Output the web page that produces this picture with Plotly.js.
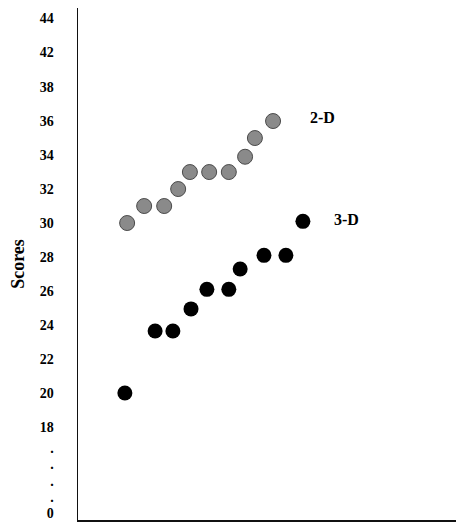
<!DOCTYPE html>
<html>
<head>
<meta charset="utf-8">
<script src="https://cdn.plot.ly/plotly-3.0.1.min.js"></script>
<style>
  html, body { margin: 0; padding: 0; background: #fff; }
  #plot { width: 474px; height: 529px; }
</style>
</head>
<body>
<div id="plot"></div>
<script>
// positions along the (unlabelled) x axis, 0..100
const x2d = [13.0, 17.5, 22.8, 26.5, 29.6, 34.7, 39.9, 44.2, 46.8, 51.6];
const scores2d = [30, 31, 31, 32, 33, 33, 33, 33.9, 35, 36];

const x3d = [12.4, 20.4, 25.1, 29.9, 34.1, 39.9, 42.9, 49.2, 55.0, 59.5];
const scores3d = [20, 23.65, 23.65, 24.95, 26.1, 26.1, 27.3, 28.1, 28.1, 30.1];

// the axis is broken: top labels skip 40, bottom skips down to 0
const tickVals = [42.06, 40.06, 38, 36, 34, 32, 30, 28, 26, 24, 22, 20, 18, 16.76, 15.8, 14.8, 13.9, 12.94];
const tickText = ["44", "42", "38", "36", "34", "32", "30", "28", "26", "24", "22", "20", "18", ".", ".", ".", ".", "0"];

const seriesLabels = ["2-D", "3-D"];
const labelPos = [[64.6, 36.2], [70.9, 30.2]];

const serif = "Liberation Serif, Times New Roman, serif";

const trace2d = {
    x: x2d,
    y: scores2d,
    name: seriesLabels[0],
    mode: "markers",
    type: "scatter",
    marker: { size: 15, color: "#8a8a8a", line: { color: "#4a4a4a", width: 1 } },
    hoverinfo: "y"
};

const trace3d = {
    x: x3d,
    y: scores3d,
    name: seriesLabels[1],
    mode: "markers",
    type: "scatter",
    marker: { size: 15, color: "#000000" },
    hoverinfo: "y"
};

const layout = {
    width: 474,
    height: 529,
    margin: { l: 78, r: 18, t: 8, b: 9 },
    paper_bgcolor: "#ffffff",
    plot_bgcolor: "#ffffff",
    showlegend: false,
    font: { family: serif, color: "#000" },
    xaxis: {
        range: [0, 100],
        showgrid: false,
        zeroline: false,
        showticklabels: false,
        showline: true,
        linecolor: "#111",
        linewidth: 1.5,
        fixedrange: true
    },
    yaxis: {
        range: [12.53, 42.65],
        tickmode: "array",
        tickvals: tickVals,
        ticktext: tickText,
        ticks: "outside",
        ticklen: 20,
        tickcolor: "rgba(0,0,0,0)",
        tickfont: { family: serif, size: 14, weight: "bold", color: "#000" },
        showgrid: false,
        zeroline: false,
        showline: true,
        linecolor: "#111",
        linewidth: 1.5,
        title: { text: "Scores", font: { family: serif, size: 18, weight: "bold", color: "#000" }, standoff: 10 },
        fixedrange: true
    },
    annotations: seriesLabels.map((t, i) => ({
        x: labelPos[i][0],
        y: labelPos[i][1],
        xref: "x",
        yref: "y",
        text: "<b>" + t + "</b>",
        showarrow: false,
        font: { family: serif, size: 16, color: "#000" }
    }))
};

Plotly.newPlot("plot", [trace2d, trace3d], layout, { displayModeBar: false, staticPlot: true });
</script>
</body>
</html>
